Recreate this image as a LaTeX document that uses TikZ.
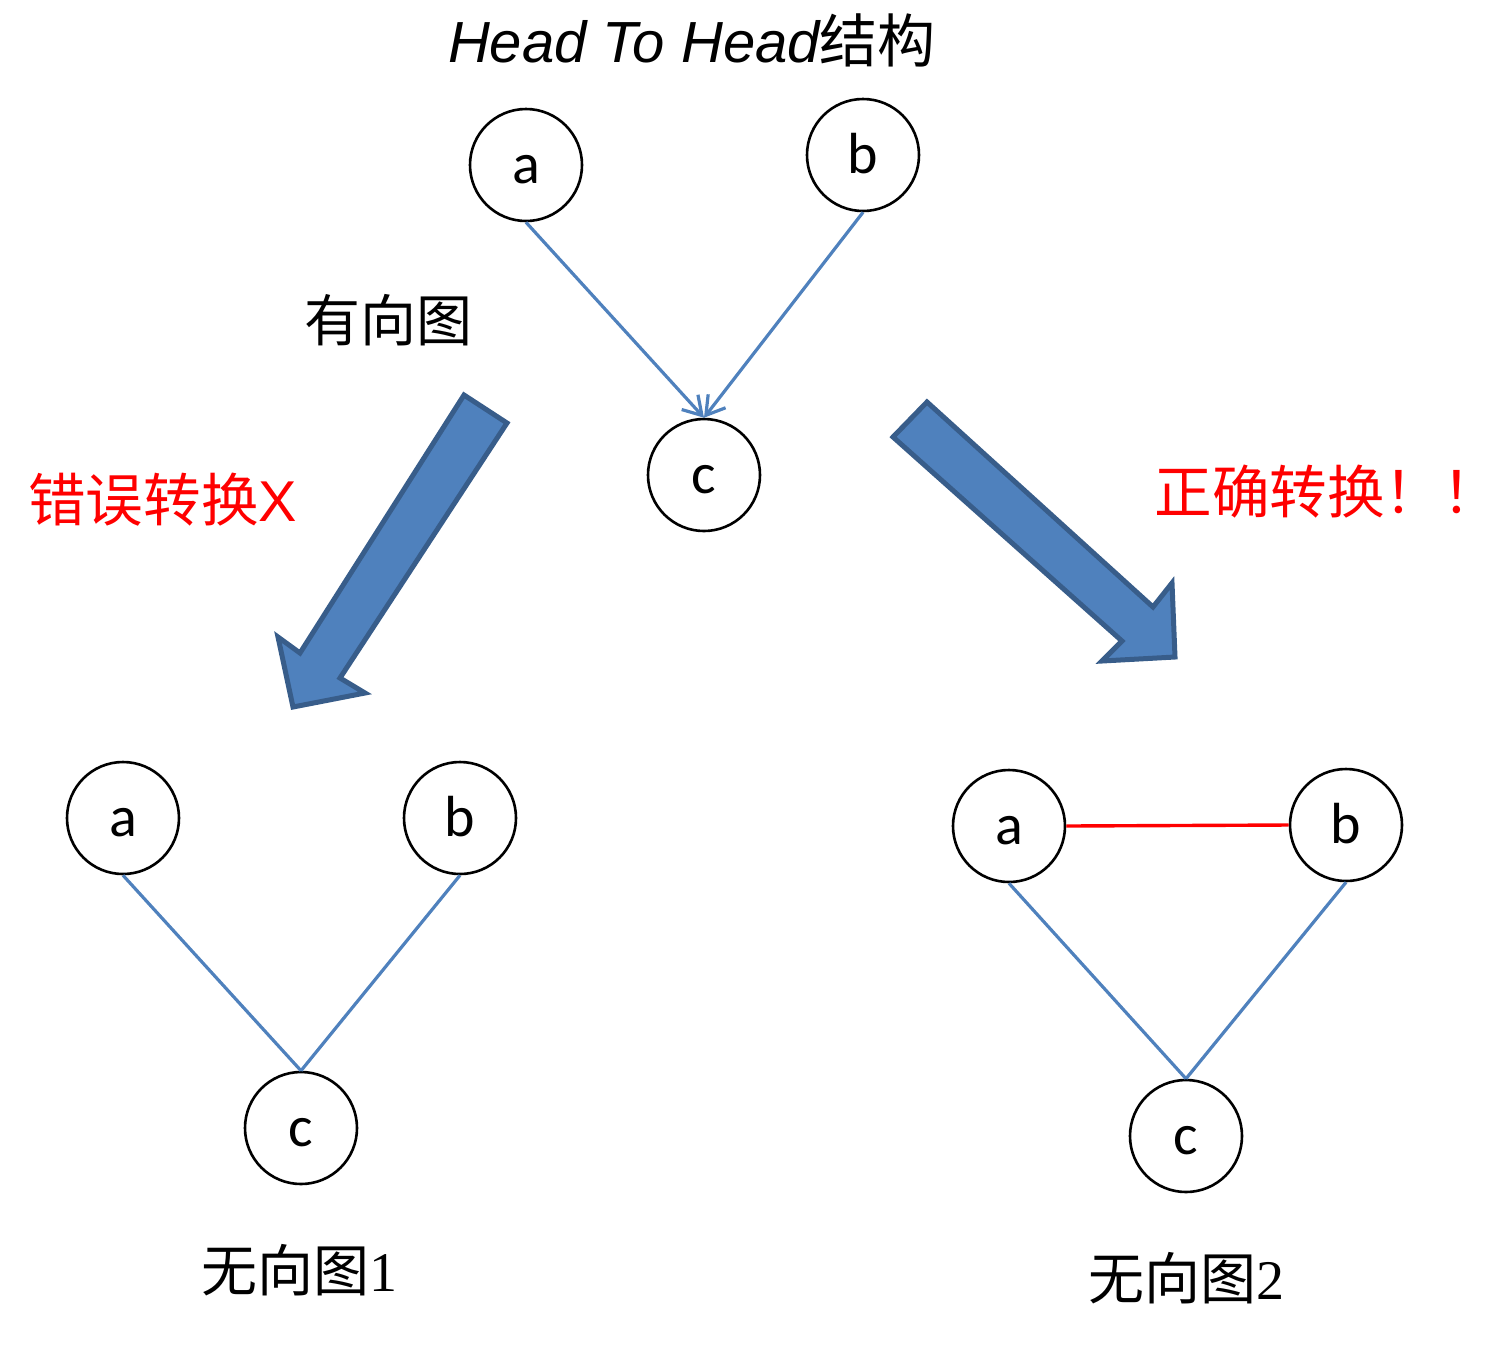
\documentclass[tikz,border=0pt]{standalone}
\usepackage{fontspec}
\setmainfont{Liberation Serif}
\newfontfamily\cjk{Noto Sans CJK SC}
\newfontfamily\arialf{Liberation Sans}
\newfontfamily\calib{Carlito}
\usetikzlibrary{arrows.meta}
\definecolor{edgeblue}{HTML}{4F81BD}
\definecolor{arrowfill}{HTML}{4F81BD}
\definecolor{arrowline}{HTML}{385D8A}
\definecolor{redtext}{HTML}{FF0000}
\tikzset{
  vnode/.style={circle, draw=black, line width=1.3pt, fill=white, inner sep=0pt,
    minimum size=56pt, text height=18pt, text depth=0pt,
    font=\calib\fontsize{29}{29}\selectfont},
  uedge/.style={draw=edgeblue, line width=1.6pt},
  dedge/.style={uedge, -{Straight Barb[length=9pt,width=11pt,line width=1.6pt]}},
  redge/.style={draw=redtext, line width=1.7pt},
  fatarrow/.style={fill=arrowfill, draw=arrowline, line width=2.5pt, line join=miter},
  cjklabel/.style={font=\cjk\fontsize{28}{28}\selectfont, text=black},
  redlabel/.style={font=\cjk\fontsize{28.8}{29}\selectfont, text=redtext, inner sep=0pt}
}
\begin{document}
\begin{tikzpicture}[x=0.5pt,y=-0.5pt]
\useasboundingbox (0,0) rectangle (1500,1346);
% title
\node (title) at (692,40) {\fontsize{29}{29}\selectfont\arialf\itshape Head To Head\cjk\upshape 结构};
% top graph
\node[vnode] (ta) at (526,165) {a};
\node[vnode] (tb) at (863,155) {b};
\node[vnode] (tc) at (704,475) {c};
\draw[dedge] (ta.south) -- (tc.north);
\draw[dedge] (tb.south) -- (tc.north);
\node[cjklabel] (directed) at (388,320) {有向图};
% fat arrows
\path[fatarrow] (464,395) -- (507,423) -- (340,678) -- (365,693) -- (293,707) -- (278,637) -- (300,653) -- cycle;
\path[fatarrow] (927,402) -- (1153,607) -- (1172,583) -- (1175,657) -- (1102,661) -- (1122,641) -- (893,437) -- cycle;
\node[redlabel, anchor=west] (wrong) at (28,500) {错误转换{\arialf X}};
\node[redlabel, anchor=west] (right) at (1154,492) {正确转换！！};
% bottom left
\node[vnode] (la) at (123,818) {a};
\node[vnode] (lb) at (460,818) {b};
\node[vnode] (lc) at (301,1128) {c};
\draw[uedge] (la.south) -- (lc.north);
\draw[uedge] (lb.south) -- (lc.north);
\node[cjklabel] (und1) at (299,1270) {无向图{\rmfamily 1}};
% bottom right
\node[vnode] (ra) at (1009,826) {a};
\node[vnode] (rb) at (1346,825) {b};
\node[vnode] (rc) at (1186,1136) {c};
\draw[uedge] (ra.south) -- (rc.north);
\draw[uedge] (rb.south) -- (rc.north);
\draw[redge] (ra.east) -- (rb.west);
\node[cjklabel] (und2) at (1186,1278) {无向图{\rmfamily 2}};
\end{tikzpicture}
\end{document}
